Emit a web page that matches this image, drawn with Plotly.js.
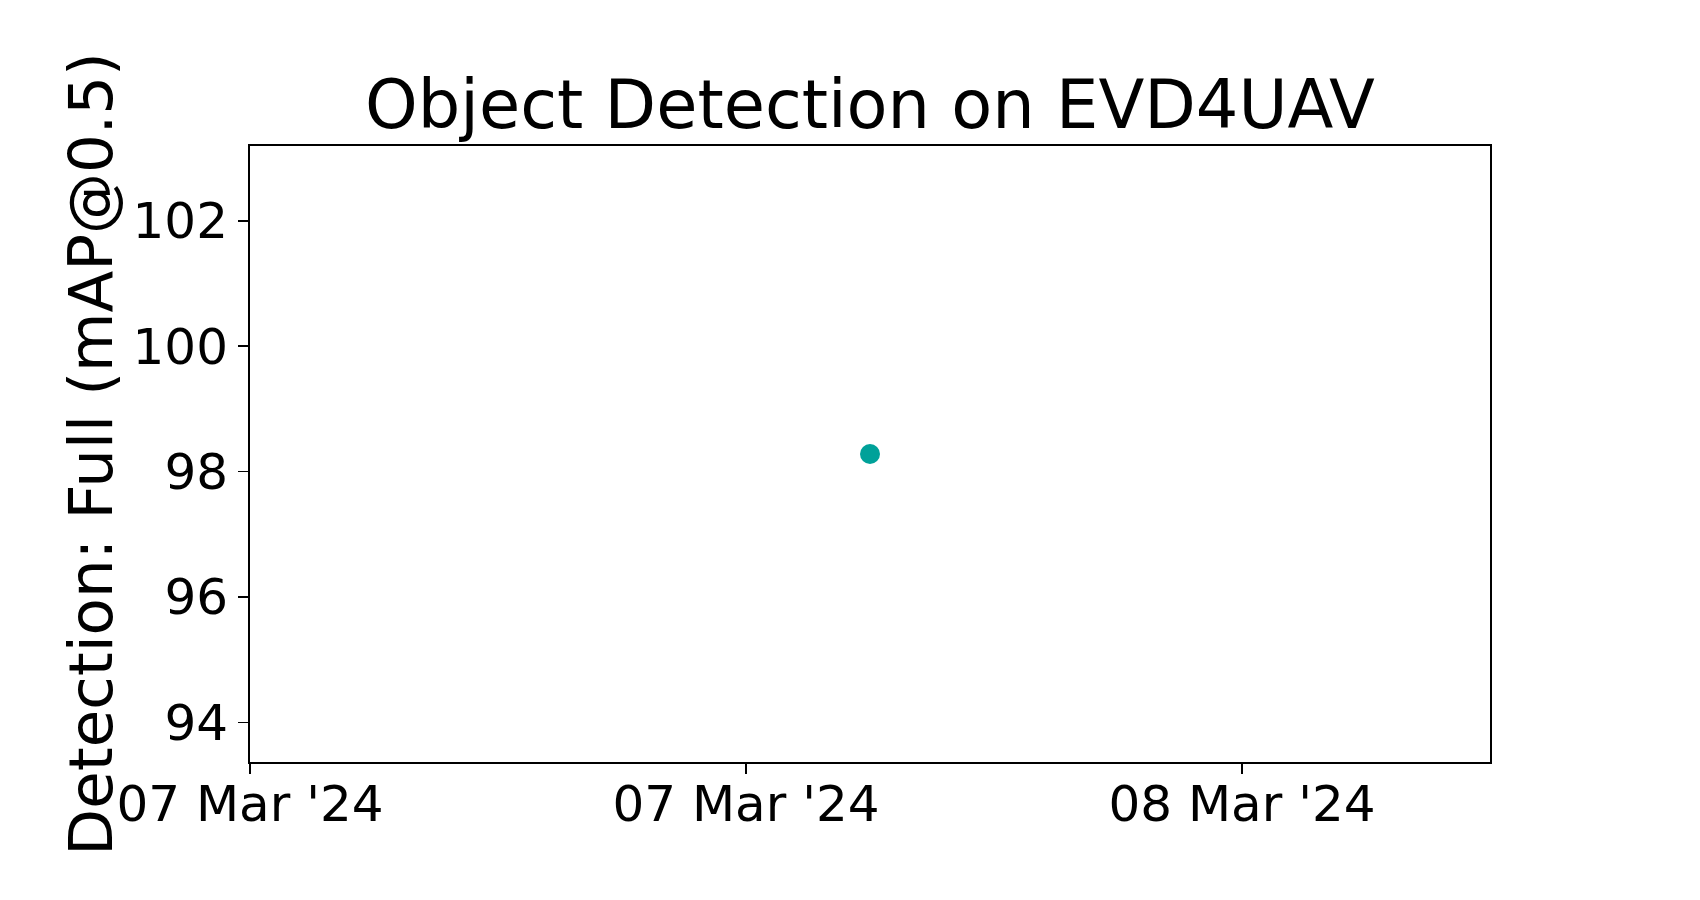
<!DOCTYPE html>
<html>
<head>
<meta charset="utf-8">
<script src="https://cdn.plot.ly/plotly-3.0.1.min.js"></script>
<style>
  html, body { margin: 0; padding: 0; background: #ffffff; }
  #chart { width: 1700px; height: 900px; }
</style>
</head>
<body>
<div id="chart"></div>
<script>
// Data
const dates = ['2024-03-07 15:00'];
const mapValues = [98.28];
const xRange = ['2024-03-07 00:00', '2024-03-08 06:00'];
const yRange = [93.366, 103.194];
const yTickVals = [94, 96, 98, 100, 102];

const FONT = 'DejaVu Sans, sans-serif';

const trace = {
  x: dates,
  y: mapValues,
  type: 'scatter',
  mode: 'markers',
  marker: { color: '#00a199', size: 20 },
  showlegend: false,
  hoverinfo: 'x+y'
};

const layout = {
  width: 1700,
  height: 900,
  paper_bgcolor: '#ffffff',
  plot_bgcolor: '#ffffff',
  margin: { l: 250, r: 210, t: 146, b: 138, pad: 0 },
  font: { family: FONT, color: '#000000' },
  title: {
    text: 'Object Detection on EVD4UAV',
    font: { family: FONT, size: 67, color: '#000000' },
    x: 0.5, xref: 'paper', xanchor: 'center',
    y: 1, yref: 'paper', yanchor: 'bottom',
    pad: { b: 18 }
  },
  xaxis: {
    type: 'date',
    range: xRange,
    tick0: '2024-03-07 00:00',
    dtick: 43200000,
    tickformat: "%d %b '%y",
    tickfont: { family: FONT, size: 50, color: '#000000' },
    ticks: 'outside',
    ticklen: 10,
    tickwidth: 1.5,
    tickcolor: '#000000',
    ticklabelstandoff: -13,
    showgrid: false,
    zeroline: false,
    showline: true,
    linecolor: '#000000',
    linewidth: 2,
    mirror: true,
    automargin: false
  },
  yaxis: {
    range: yRange,
    tickvals: yTickVals,
    tickfont: { family: FONT, size: 50, color: '#000000' },
    ticks: 'outside',
    ticklen: 10,
    tickwidth: 1.5,
    tickcolor: '#000000',
    showgrid: false,
    zeroline: false,
    showline: true,
    linecolor: '#000000',
    linewidth: 2,
    mirror: true,
    automargin: false,
    title: {
      text: 'Detection: Full (mAP@0.5)',
      font: { family: FONT, size: 61, color: '#000000' },
      standoff: 0
    }
  }
};

Plotly.newPlot('chart', [trace], layout, { staticPlot: true, displayModeBar: false });
</script>
</body>
</html>
